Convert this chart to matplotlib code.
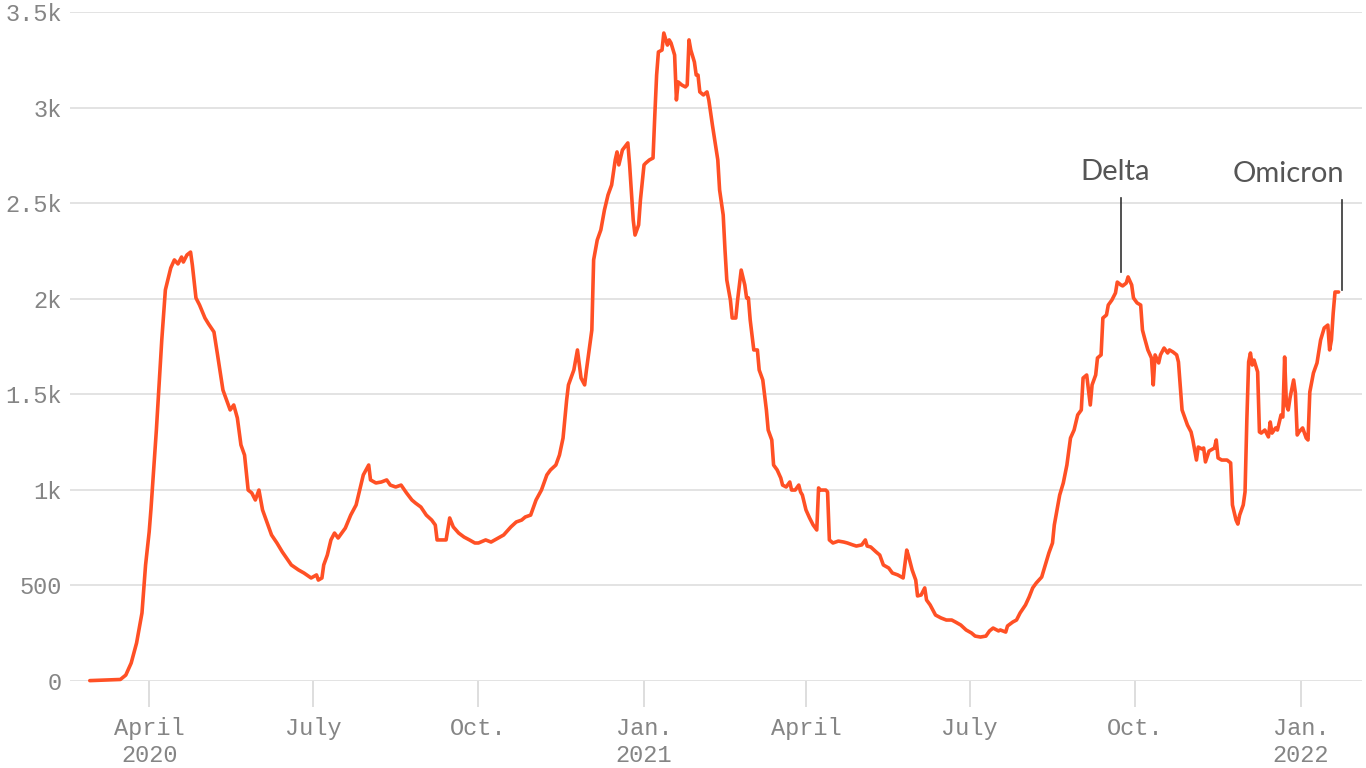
import matplotlib
matplotlib.use("Agg")
import matplotlib.pyplot as plt
import pandas as pd

dates = [
    "2020-02-28", "2020-03-16", "2020-03-19", "2020-03-22", "2020-03-25", "2020-03-28",
    "2020-03-30", "2020-04-01",
    "2020-04-02", "2020-04-05", "2020-04-08", "2020-04-10", "2020-04-13", "2020-04-15",
    "2020-04-17", "2020-04-19", "2020-04-20", "2020-04-22", "2020-04-24", "2020-04-25",
    "2020-04-27", "2020-04-29", "2020-05-02", "2020-05-04", "2020-05-07", "2020-05-09",
    "2020-05-12", "2020-05-14", "2020-05-16", "2020-05-18", "2020-05-20", "2020-05-22",
    "2020-05-24", "2020-05-26", "2020-05-28", "2020-05-30", "2020-06-01", "2020-06-03",
    "2020-06-06", "2020-06-08", "2020-06-11", "2020-06-14", "2020-06-19", "2020-06-23",
    "2020-06-26", "2020-06-30", "2020-07-03", "2020-07-04", "2020-07-06", "2020-07-07",
    "2020-07-09", "2020-07-11", "2020-07-13", "2020-07-15", "2020-07-17", "2020-07-19",
    "2020-07-22", "2020-07-25", "2020-07-27", "2020-07-29", "2020-08-01", "2020-08-02",
    "2020-08-05", "2020-08-08", "2020-08-11", "2020-08-13", "2020-08-16", "2020-08-19",
    "2020-08-22", "2020-08-25", "2020-08-27", "2020-08-30", "2020-09-02", "2020-09-05",
    "2020-09-07", "2020-09-08", "2020-09-10", "2020-09-13", "2020-09-15", "2020-09-17",
    "2020-09-20", "2020-09-23", "2020-09-26", "2020-09-29", "2020-10-01", "2020-10-05",
    "2020-10-08", "2020-10-12", "2020-10-15", "2020-10-19", "2020-10-22", "2020-10-25",
    "2020-10-27", "2020-10-30", "2020-11-02", "2020-11-05", "2020-11-08", "2020-11-10",
    "2020-11-13", "2020-11-15", "2020-11-17", "2020-11-19", "2020-11-20", "2020-11-23",
    "2020-11-25", "2020-11-27", "2020-11-29", "2020-11-30", "2020-12-03", "2020-12-04",
    "2020-12-06", "2020-12-08", "2020-12-10", "2020-12-12", "2020-12-14", "2020-12-16",
    "2020-12-17", "2020-12-18", "2020-12-20", "2020-12-23", "2020-12-24", "2020-12-26",
    "2020-12-27", "2020-12-29", "2020-12-30", "2021-01-01", "2021-01-02", "2021-01-04",
    "2021-01-06", "2021-01-07", "2021-01-08", "2021-01-09", "2021-01-11", "2021-01-12",
    "2021-01-14", "2021-01-15", "2021-01-16", "2021-01-18", "2021-01-19", "2021-01-20",
    "2021-01-22", "2021-01-24", "2021-01-25", "2021-01-26", "2021-01-27", "2021-01-29",
    "2021-01-30", "2021-01-31", "2021-02-01", "2021-02-03", "2021-02-05", "2021-02-06",
    "2021-02-08", "2021-02-11", "2021-02-12", "2021-02-14", "2021-02-15", "2021-02-16",
    "2021-02-18", "2021-02-19", "2021-02-21", "2021-02-22", "2021-02-24", "2021-02-26",
    "2021-02-27", "2021-02-28", "2021-03-01", "2021-03-03", "2021-03-05", "2021-03-06",
    "2021-03-08", "2021-03-10", "2021-03-11", "2021-03-13", "2021-03-14", "2021-03-16",
    "2021-03-18", "2021-03-19", "2021-03-21", "2021-03-23", "2021-03-24", "2021-03-26",
    "2021-03-28", "2021-03-29", "2021-03-30", "2021-04-01", "2021-04-03", "2021-04-05",
    "2021-04-07", "2021-04-08", "2021-04-09", "2021-04-12", "2021-04-13", "2021-04-14",
    "2021-04-16", "2021-04-19", "2021-04-22", "2021-04-24", "2021-04-27", "2021-04-29",
    "2021-05-02", "2021-05-04", "2021-05-05", "2021-05-07", "2021-05-10", "2021-05-12",
    "2021-05-14", "2021-05-17", "2021-05-19", "2021-05-22", "2021-05-25", "2021-05-27",
    "2021-05-28", "2021-05-30", "2021-06-01", "2021-06-02", "2021-06-04", "2021-06-06",
    "2021-06-07", "2021-06-09", "2021-06-12", "2021-06-15", "2021-06-18", "2021-06-21",
    "2021-06-23", "2021-06-26", "2021-06-29", "2021-07-02", "2021-07-04", "2021-07-07",
    "2021-07-10", "2021-07-12", "2021-07-14", "2021-07-17", "2021-07-18", "2021-07-21",
    "2021-07-22", "2021-07-25", "2021-07-27", "2021-07-29", "2021-08-01", "2021-08-03",
    "2021-08-05", "2021-08-07", "2021-08-10", "2021-08-12", "2021-08-14", "2021-08-16",
    "2021-08-17", "2021-08-20", "2021-08-22", "2021-08-24", "2021-08-26", "2021-08-28",
    "2021-08-30", "2021-09-01", "2021-09-02", "2021-09-04", "2021-09-06", "2021-09-07",
    "2021-09-09", "2021-09-10", "2021-09-12", "2021-09-13", "2021-09-15", "2021-09-16",
    "2021-09-18", "2021-09-20", "2021-09-21", "2021-09-23", "2021-09-24", "2021-09-26",
    "2021-09-27", "2021-09-29", "2021-09-30", "2021-10-02", "2021-10-04", "2021-10-05",
    "2021-10-06", "2021-10-08", "2021-10-10", "2021-10-11", "2021-10-12", "2021-10-14",
    "2021-10-15", "2021-10-17", "2021-10-19", "2021-10-20", "2021-10-22", "2021-10-24",
    "2021-10-25", "2021-10-27", "2021-10-29", "2021-10-30", "2021-11-01", "2021-11-02",
    "2021-11-04", "2021-11-05", "2021-11-07", "2021-11-08", "2021-11-09", "2021-11-11",
    "2021-11-13", "2021-11-14", "2021-11-15", "2021-11-16", "2021-11-18", "2021-11-20",
    "2021-11-21", "2021-11-23", "2021-11-24", "2021-11-26", "2021-11-27", "2021-11-28",
    "2021-11-30", "2021-12-01", "2021-12-02", "2021-12-03", "2021-12-04", "2021-12-05",
    "2021-12-06", "2021-12-08", "2021-12-09", "2021-12-10", "2021-12-12", "2021-12-14",
    "2021-12-15", "2021-12-16", "2021-12-18", "2021-12-19", "2021-12-21", "2021-12-22",
    "2021-12-23", "2021-12-24", "2021-12-25", "2021-12-26", "2021-12-28", "2021-12-29",
    "2021-12-30", "2021-12-31", "2022-01-02", "2022-01-04", "2022-01-05", "2022-01-06",
    "2022-01-08", "2022-01-10", "2022-01-12", "2022-01-14", "2022-01-16", "2022-01-17",
    "2022-01-18", "2022-01-19", "2022-01-20", "2022-01-22",
]

deaths = [
    2, 8, 31, 94, 199, 356,
    607, 780,
    900, 1313, 1784, 2046, 2161, 2203,
    2182, 2218, 2192, 2229, 2244, 2176,
    2004, 1967, 1899, 1868, 1826, 1706,
    1522, 1470, 1418, 1444, 1376, 1235,
    1182, 999, 984, 947, 999, 895,
    816, 764, 722, 675, 607, 581,
    565, 539, 555, 528, 539, 607,
    659, 738, 774, 748, 774, 800,
    868, 921, 999, 1078, 1130, 1052,
    1036, 1041, 1052, 1025, 1015, 1025,
    984, 947, 931, 910, 868, 842,
    816, 738, 738, 738, 853, 806,
    774, 753, 738, 722, 722, 738,
    727, 748, 764, 806, 832, 842,
    858, 868, 947, 999, 1078, 1104,
    1130, 1182, 1271, 1470, 1549, 1627,
    1732, 1585, 1549, 1627, 1836, 2203,
    2307, 2360, 2464, 2543, 2595, 2726,
    2768, 2700, 2778, 2815, 2700, 2412,
    2333, 2386, 2516, 2700, 2710, 2726,
    2736, 2961, 3170, 3291, 3301, 3390,
    3327, 3354, 3338, 3275, 3040, 3134,
    3118, 3108, 3118, 3354, 3301, 3238,
    3170, 3170, 3082, 3066, 3082, 3040,
    2909, 2726, 2569, 2438, 2255, 2098,
    1993, 1899, 1899, 1993, 2150, 2072,
    2004, 2004, 1889, 1732, 1732, 1627,
    1575, 1418, 1313, 1261, 1130, 1104,
    1062, 1025, 1015, 1041, 999, 999,
    1025, 989, 973, 895, 853, 816,
    790, 1010, 999, 999, 989, 738,
    722, 732, 727, 722, 712, 706,
    712, 738, 706, 701, 675, 659,
    607, 591, 565, 555, 539, 685,
    654, 581, 528, 445, 450, 487,
    424, 398, 345, 330, 319, 319,
    309, 293, 267, 251, 235, 230,
    235, 262, 277, 262, 267, 256,
    288, 309, 319, 356, 398, 439,
    487, 513, 544, 607, 670, 722,
    816, 973, 1036, 1130, 1271, 1313,
    1392, 1418, 1585, 1601, 1444, 1549,
    1601, 1690, 1706, 1899, 1915, 1967,
    1993, 2030, 2087, 2072, 2067, 2082,
    2114, 2072, 2004, 1978, 1967, 1836,
    1800, 1732, 1690, 1549, 1706, 1664,
    1706, 1742, 1716, 1732, 1721, 1706,
    1669, 1418, 1365, 1339, 1303, 1261,
    1156, 1224, 1214, 1219, 1146, 1203,
    1214, 1219, 1261, 1167, 1156, 1156,
    1156, 1141, 921, 842, 821, 868,
    921, 989, 1365, 1669, 1716, 1653,
    1679, 1617, 1303, 1297, 1313, 1277,
    1355, 1297, 1324, 1313, 1392, 1381,
    1695, 1444, 1418, 1481, 1575, 1507,
    1287, 1303, 1324, 1271, 1261, 1512,
    1611, 1664, 1784, 1847, 1862, 1732,
    1784, 1925, 2035, 2035,
]

tick_dates = ["2020-04-01", "2020-07-01", "2020-10-01", "2021-01-01",
              "2021-04-01", "2021-07-01", "2021-10-01", "2022-01-01"]
tick_labels = ["April\n2020", "July", "Oct.", "Jan.\n2021",
               "April", "July", "Oct.", "Jan.\n2022"]
y_ticks = [0, 500, 1000, 1500, 2000, 2500, 3000, 3500]
y_labels = ["0", "500", "1k", "1.5k", "2k", "2.5k", "3k", "3.5k"]

annot_names = ["Delta", "Omicron"]
annot_dates = ["2021-09-23", "2022-01-24"]
annot_top = [2527, 2516]
annot_bottom = [2140, 2046]
annot_text_y = [2663, 2652]

x = pd.to_datetime(dates)

fig = plt.figure(figsize=(13.66, 7.68), dpi=100)
ax = fig.add_axes([70 / 1366, 87 / 768, 1292 / 1366, 669 / 768])

ax.plot(x, deaths, color="#ff5025", lw=2.6, solid_joinstyle="round",
        solid_capstyle="round", clip_on=False, zorder=3)

ax.set_ylim(0, 3500)
ax.set_xlim(pd.Timestamp("2020-02-17"), pd.Timestamp("2022-02-04"))

ax.set_yticks(y_ticks)
ax.set_yticklabels(y_labels)
ax.set_xticks(pd.to_datetime(tick_dates))
ax.set_xticklabels(tick_labels, linespacing=1.2)

for s in ax.spines.values():
    s.set_visible(False)

ax.grid(axis="y", color="#e0e0e0", lw=1.3, zorder=0)
ax.set_axisbelow(True)

mono = "Liberation Mono"
ax.tick_params(axis="y", length=0, pad=6, labelsize=17, labelcolor="#858585")
ax.tick_params(axis="x", length=19, width=1.1, color="#d5d5d5", pad=7,
               labelsize=17, labelcolor="#858585", direction="out")
for lab in ax.get_xticklabels() + ax.get_yticklabels():
    lab.set_fontfamily(mono)

for name, d, top, bot, ty in zip(annot_names, annot_dates, annot_top,
                                  annot_bottom, annot_text_y):
    xd = pd.Timestamp(d)
    ax.plot([xd, xd], [bot, top], color="#333333", lw=1.2, zorder=4, clip_on=False)
    ha = "center" if name == "Delta" else "right"
    xo = xd - pd.Timedelta(days=3) if name == "Delta" else xd + pd.Timedelta(days=1)
    ax.text(xo, ty, name, ha=ha, va="center", fontsize=21,
            family="Lato", color="#555555")

fig.savefig("out.png", dpi=100)
